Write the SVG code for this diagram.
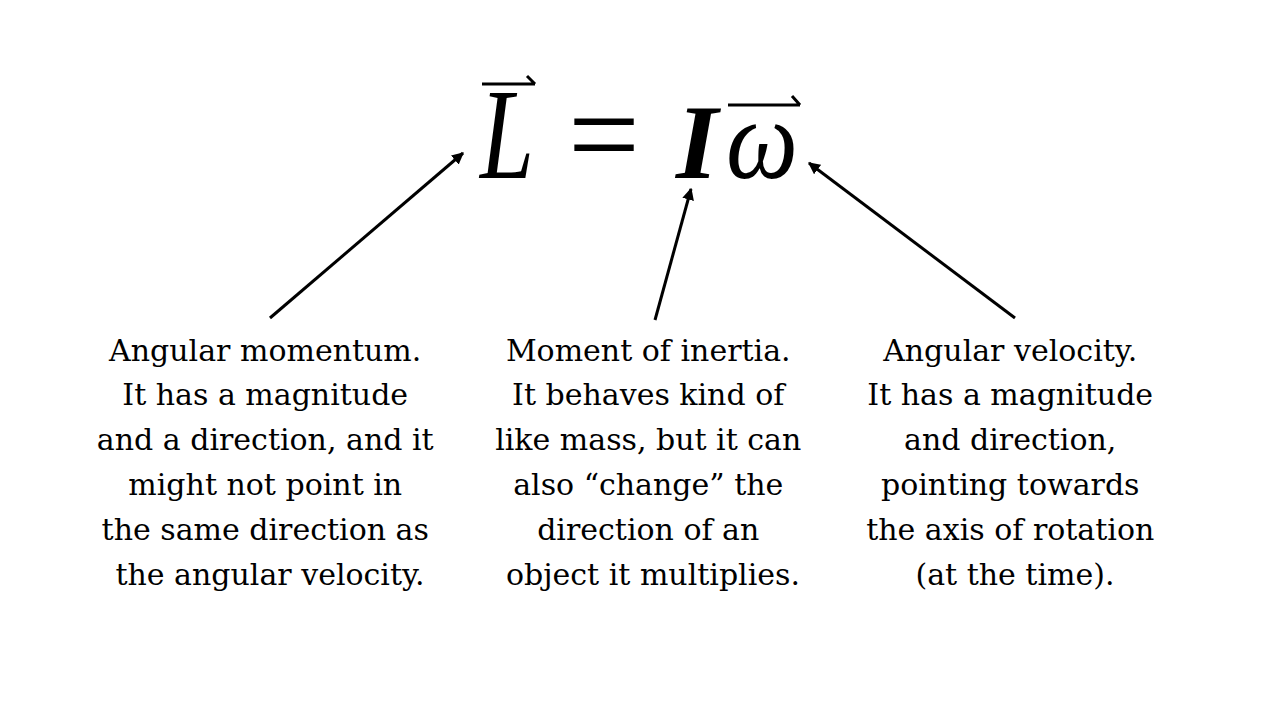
<svg xmlns="http://www.w3.org/2000/svg" width="1280" height="720" viewBox="0 0 1280 720">
<style>
.t{font-family:"DejaVu Serif","Liberation Serif",serif;font-size:30px;fill:#000;text-anchor:middle}
.eq{font-family:"Liberation Serif",serif;fill:#000}
.c{stroke:#000;stroke-width:3;fill:none}
.v{stroke:#000;stroke-width:3;fill:none}
</style>
<defs><marker id="a" viewBox="0 0 10 10" refX="9" refY="5" markerWidth="4" markerHeight="4" orient="auto"><path d="M0,0L10,5L0,10z" fill="#000"/></marker></defs>
<g id="equation">
<text class="eq" x="480" y="178" font-size="130" font-style="italic" textLength="54" lengthAdjust="spacingAndGlyphs">L</text>
<text class="eq" x="568" y="178" font-size="130" textLength="72" lengthAdjust="spacingAndGlyphs">=</text>
<text class="eq" x="676" y="178" font-size="105" font-style="italic" font-weight="bold" textLength="42" lengthAdjust="spacingAndGlyphs">I</text>
<text class="eq" x="726" y="178" font-size="115" font-style="italic" textLength="72" lengthAdjust="spacingAndGlyphs">ω</text>
<path class="v" d="M482,84H535M527,76L535,84"/>
<path class="v" d="M728,105H800M792,96L800,105"/>
</g>
<g id="connectors">
<line class="c" x1="270" y1="318" x2="463" y2="153" marker-end="url(#a)"/>
<line class="c" x1="655" y1="320" x2="691" y2="189" marker-end="url(#a)"/>
<line class="c" x1="1015" y1="318" x2="809" y2="163" marker-end="url(#a)"/>
</g>
<g id="n1"><text class="t">
<tspan x="270" y="361">Angular momentum.</tspan>
<tspan x="270" y="405">It has a magnitude</tspan>
<tspan x="270" y="450">and a direction, and it</tspan>
<tspan x="270" y="495">might not point in</tspan>
<tspan x="270" y="540">the same direction as</tspan>
<tspan x="270" y="585">the angular velocity.</tspan></text></g>
<g id="n2"><text class="t">
<tspan x="653" y="361">Moment of inertia.</tspan>
<tspan x="653" y="405">It behaves kind of</tspan>
<tspan x="653" y="450">like mass, but it can</tspan>
<tspan x="653" y="495">also “change” the</tspan>
<tspan x="653" y="540">direction of an</tspan>
<tspan x="653" y="585">object it multiplies.</tspan></text></g>
<g id="n3"><text class="t">
<tspan x="1015" y="361">Angular velocity.</tspan>
<tspan x="1015" y="405">It has a magnitude</tspan>
<tspan x="1015" y="450">and direction,</tspan>
<tspan x="1015" y="495">pointing towards</tspan>
<tspan x="1015" y="540">the axis of rotation</tspan>
<tspan x="1015" y="585">(at the time).</tspan></text></g>
</svg>
